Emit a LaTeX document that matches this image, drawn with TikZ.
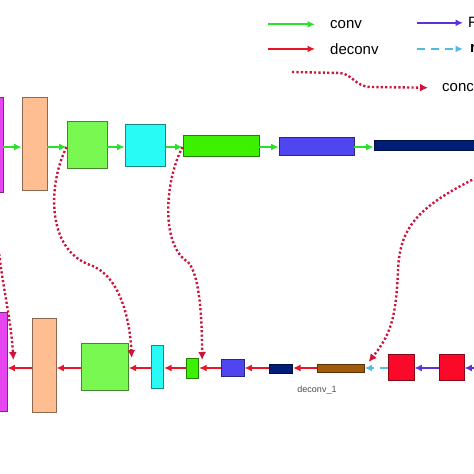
\documentclass[tikz,border=0pt]{standalone}
\usepackage{fontspec}
\setmainfont{Liberation Sans}
\usepackage{xcolor}
\usetikzlibrary{shapes,arrows,arrows.meta}

\definecolor{magbox}{RGB}{230,70,240}
\definecolor{peachbox}{RGB}{255,190,145}
\definecolor{lgbox}{RGB}{120,248,80}
\definecolor{cybox}{RGB}{40,250,245}
\definecolor{grbox}{RGB}{60,240,0}
\definecolor{blbox}{RGB}{80,70,240}
\definecolor{nvbox}{RGB}{0,30,120}
\definecolor{brbox}{RGB}{160,90,10}
\definecolor{redbox}{RGB}{250,10,40}
\definecolor{convgreen}{RGB}{40,225,40}
\definecolor{deconvred}{RGB}{232,20,40}
\definecolor{fcpurple}{RGB}{90,50,220}
\definecolor{reshapecyan}{RGB}{80,185,230}
\definecolor{concatred}{RGB}{205,20,60}

\begin{document}
\begin{tikzpicture}[x=1pt, y=1pt,
  blk/.style={draw=#1!55!black, fill=#1, line width=0.8pt, inner sep=0pt},
  convarr/.style={line width=2.2pt, convgreen, -{Latex[length=7.5pt,width=7pt]}},
  deconvarr/.style={line width=2.2pt, deconvred, -{Latex[length=7.5pt,width=7pt]}},
  fcarr/.style={line width=2.2pt, fcpurple, -{Latex[length=7.5pt,width=7pt]}},
  reshapearr/.style={line width=2.2pt, reshapecyan, dash pattern=on 8pt off 6pt, -{Latex[length=7.5pt,width=7pt]}},
  concatarr/.style={line width=2.4pt, concatred, dash pattern=on 2.2pt off 2.2pt, -{Latex[length=8pt,width=8pt]}},
  leg/.style={font=\fontsize{15}{18}\selectfont, anchor=base west, inner sep=0pt}]
\useasboundingbox (0,0) rectangle (474,474);

\coordinate (rowt) at (0,327);
\coordinate (rowb) at (0,106);
\coordinate (fcin) at (484,106);
\coordinate (catd) at (484,300);
\coordinate (ldot) at (292,402);

\node[blk=magbox, minimum width=13pt, minimum height=95pt] (tmag) at (-3.5,329.5) {};
\node[blk=peachbox, minimum width=25pt, minimum height=93pt] (tpeach) at (34.5,329.7) {};
\node[blk=lgbox, minimum width=40pt, minimum height=47pt] (tlg) at (87,329.5) {};
\node[blk=cybox, minimum width=40.5pt, minimum height=42pt] (tcy) at (145.3,329) {};
\node[blk=grbox, minimum width=76pt, minimum height=20.5pt] (tgr) at (221,328.2) {};
\node[blk=blbox, minimum width=75pt, minimum height=17.3pt] (tbl) at (316.5,327.6) {};
\node[blk=nvbox, minimum width=116pt, minimum height=9.3pt] (tnv) at (432,328.6) {};

\node[blk=magbox, minimum width=13pt, minimum height=99pt] (bmag) at (0.5,112.5) {};
\node[blk=peachbox, minimum width=24pt, minimum height=94.7pt] (bpeach) at (44,108.7) {};
\node[blk=lgbox, minimum width=46.6pt, minimum height=47pt] (blg) at (105,107.5) {};
\node[blk=cybox, minimum width=12pt, minimum height=43pt] (bcy) at (157.7,107.5) {};
\node[blk=grbox, minimum width=12pt, minimum height=20.7pt] (bgr) at (192.7,105.7) {};
\node[blk=blbox, minimum width=23pt, minimum height=17.7pt] (bbl) at (232.5,106.2) {};
\node[blk=nvbox, minimum width=23.7pt, minimum height=9pt] (bnv) at (280.8,105.2) {};
\node[blk=brbox, minimum width=46.6pt, minimum height=8pt] (bbr) at (341,105.3) {};
\node[blk=redbox, minimum width=26pt, minimum height=26.3pt] (bred1) at (401,106.8) {};
\node[blk=redbox, minimum width=25pt, minimum height=26pt] (bred2) at (451.5,106.9) {};
\node[font=\fontsize{9}{10}\selectfont, text=black!70] (lbl) at (317,84) {deconv\_1};

\foreach \a/\b in {tmag/tpeach, tpeach/tlg, tlg/tcy, tcy/tgr, tgr/tbl, tbl/tnv}
  \draw[convarr] (\a.east |- rowt) -- (\b.west |- rowt);
\foreach \a/\b in {bbr/bnv, bnv/bbl, bbl/bgr, bgr/bcy, bcy/blg, blg/bpeach, bpeach/bmag}
  \draw[deconvarr] (\a.west |- rowb) -- (\b.east |- rowb);
\draw[reshapearr] (bred1.west |- rowb) -- (bbr.east |- rowb);
\draw[fcarr] (bred2.west |- rowb) -- (bred1.east |- rowb);
\draw[fcarr] (fcin) -- (bred2.east |- rowb);

\draw[concatarr] (tmag.south) .. controls (-6,215) and (10,170) .. ([shift={(6,8)}]bmag.east |- rowb);
\draw[concatarr] (tlg.west |- rowt) .. controls (48,290) and (46,225) .. (90,209)
  .. controls (120,199) and (130,154) .. ([shift={(3,10)}]blg.east |- rowb);
\draw[concatarr] (tgr.west |- rowt) .. controls (165,294) and (160,229) .. (188,212)
  .. controls (200,199) and (202,154) .. ([shift={(3,8)}]bgr.east |- rowb);
\draw[concatarr] (catd) .. controls (420,269) and (400,249) .. (398,204)
  .. controls (396,154) and (390,139) .. ([shift={(4,6)}]bbr.east |- rowb);

\node[leg] (lconv) at (330,445.7) {conv};
\node[leg] (ldeconv) at (330,419.7) {deconv};
\node[leg] (lfc) at (468,446) {F};
\node[leg, font=\fontsize{15}{18}\selectfont\bfseries] (lres) at (470,421) {r};
\node[leg] (lconc) at (442,382.3) {conc};
\draw[convarr] ([xshift=-62pt]lconv.west) -- ([xshift=-15pt]lconv.west);
\draw[deconvarr] ([xshift=-62pt]ldeconv.west) -- ([xshift=-15pt]ldeconv.west);
\draw[fcarr] ([xshift=-51pt]lfc.west) -- ([xshift=-5pt]lfc.west);
\draw[reshapearr] ([xshift=-53pt]lres.west) -- ([xshift=-7pt]lres.west);
\draw[concatarr] (ldot) -- (340,401) .. controls (352,400) and (355,388) .. (370,387)
  -- ([xshift=-14pt]lconc.west);
\end{tikzpicture}
\end{document}
